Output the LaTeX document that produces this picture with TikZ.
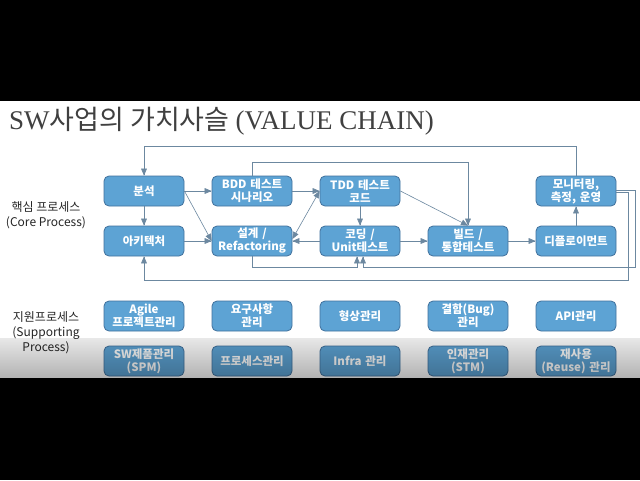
\documentclass[tikz,border=0pt]{standalone}
\usepackage{fontspec}
\setmainfont{Noto Sans CJK KR}
\newfontfamily\latinserif{Liberation Serif}
\usepackage{tikz}
\usetikzlibrary{arrows, fadings}
\definecolor{boxblue}{RGB}{93,163,212}
\definecolor{boxline}{RGB}{65,113,156}
\definecolor{linkgray}{RGB}{108,136,160}
\definecolor{titlegray}{RGB}{64,64,64}
\tikzfading[name=fade down, top color=transparent!70, bottom color=transparent!0]

\begin{document}
\begin{tikzpicture}[x=1pt, y=-1pt, node distance=108pt, font=\fontsize{11.5}{13}\selectfont]
		\tikzstyle{core} = [rectangle, rounded corners=5pt, minimum width=78pt, minimum height=30pt, text centered, text width=78pt, inner sep=1pt, draw=boxline, fill=boxblue, text=white, line width=0.8pt, font=\fontsize{11.5}{13}\selectfont\bfseries]
		
		\tikzstyle{support} = [core]
		
		\tikzstyle{sidetext} = [align=center, text=black!85, font=\fontsize{12}{15}\selectfont]
		
		\tikzstyle{arrow} = [->, >=triangle 45, draw=linkgray, line width=0.6pt]
		\tikzstyle{arrow2} = [<->, >=triangle 45, draw=linkgray, line width=0.6pt]
		%-------------------------------------------------------
		% slide area and black bars
		\useasboundingbox (0,0) rectangle (640,480);
		\fill[white] (0,0) rectangle (640,480);
		\fill[black] (0,0) rectangle (640,101);
		\fill[black] (0,378) rectangle (640,480);
		
		\node (title) [anchor=base west, inner sep=0pt, text=titlegray, font=\fontsize{27}{30}\selectfont] at (9,129) {{\latinserif SW}사업의 가치사슬 {\latinserif (VALUE CHAIN)}};
		
		\node (core) [sidetext] at (46,215) {핵심 프로세스\\(Core Process)};
		\node (sup) [sidetext] at (46,333) {지원프로세스\\(Supporting\\Process)};
		
		%-------------------------------------------------------
		% core process
		\node (n1) [core] at (144,191) {분석};
		\node (n2) [core, right of = n1] {BDD 테스트\\시나리오};
		\node (n3) [core, right of = n2] {TDD 테스트\\코드};
		
		\node (n5) [core, below of = n1, node distance=50pt] {아키텍처};
		\node (n6) [core, right of = n5] {설계 /\\Refactoring};
		\node (n7) [core, right of = n6] {코딩 /\\Unit테스트};
		\node (n8) [core, right of = n7] {빌드 /\\통합테스트};
		\node (n9) [core, right of = n8] {디플로이먼트};
		
		\node (n4) [core, above of = n9, node distance=50pt] {모니터링,\\측정, 운영};
		
		\draw [arrow] (n1) -- (n2);
		\draw [arrow] (n2) -- (n3);
		\draw [arrow] (n1) -- (n5);
		\draw [arrow] (n1.east) -- (n6.west);
		\draw [arrow] (n5) -- (n6);
		\draw [arrow2] ([yshift=2pt]n6.east) -- (n3.west);
		\draw [arrow] (n3) -- (n7);
		\draw [arrow] (n7) -- (n6);
		\draw [arrow] (n3.east) -- (n8.north);
		\draw [arrow] (n7) -- (n8);
		\draw [arrow] (n8) -- (n9);
		\draw [arrow] (n9) -- (n4);
		
		\draw [arrow] (n2.north) -- ++(0,-13) -| (n8.north);
		\draw [arrow] (n4.north) -- ++(0,-29) -| (n1.north);
		\draw [arrow] (n6.south) -- ++(0,11) -| ([xshift=-3pt]n7.south);
		\draw [arrow] ([yshift=1pt]n4.east) -- ++(19,0) -- ++(0,77) -| ([xshift=3pt]n7.south);
		\draw [arrow] ([yshift=-1pt]n4.east) -- ++(12,0) -- ++(0,88) -| (n5.south);
		
		%-------------------------------------------------------
		% supporting process
		\node (s1) [support] at (144,316) {Agile\\프로젝트관리};
		\node (s2) [support, right of = s1] {요구사항\\관리};
		\node (s3) [support, right of = s2] {형상관리};
		\node (s4) [support, right of = s3] {결함(Bug)\\관리};
		\node (s5) [support, right of = s4] {API관리};
		
		\node (s6) [support, below of = s1, node distance=45pt] {SW제품관리\\(SPM)};
		\node (s7) [support, right of = s6] {프로세스관리};
		\node (s8) [support, right of = s7] {Infra 관리};
		\node (s9) [support, right of = s8] {인재관리\\(STM)};
		\node (s10) [support, right of = s9] {재사용\\(Reuse) 관리};
		
		% shadow over the lower edge
		\fill[black, fill opacity=0.3, path fading=fade down] (0,338) rectangle (640,378);
		\end{tikzpicture}
\end{document}
